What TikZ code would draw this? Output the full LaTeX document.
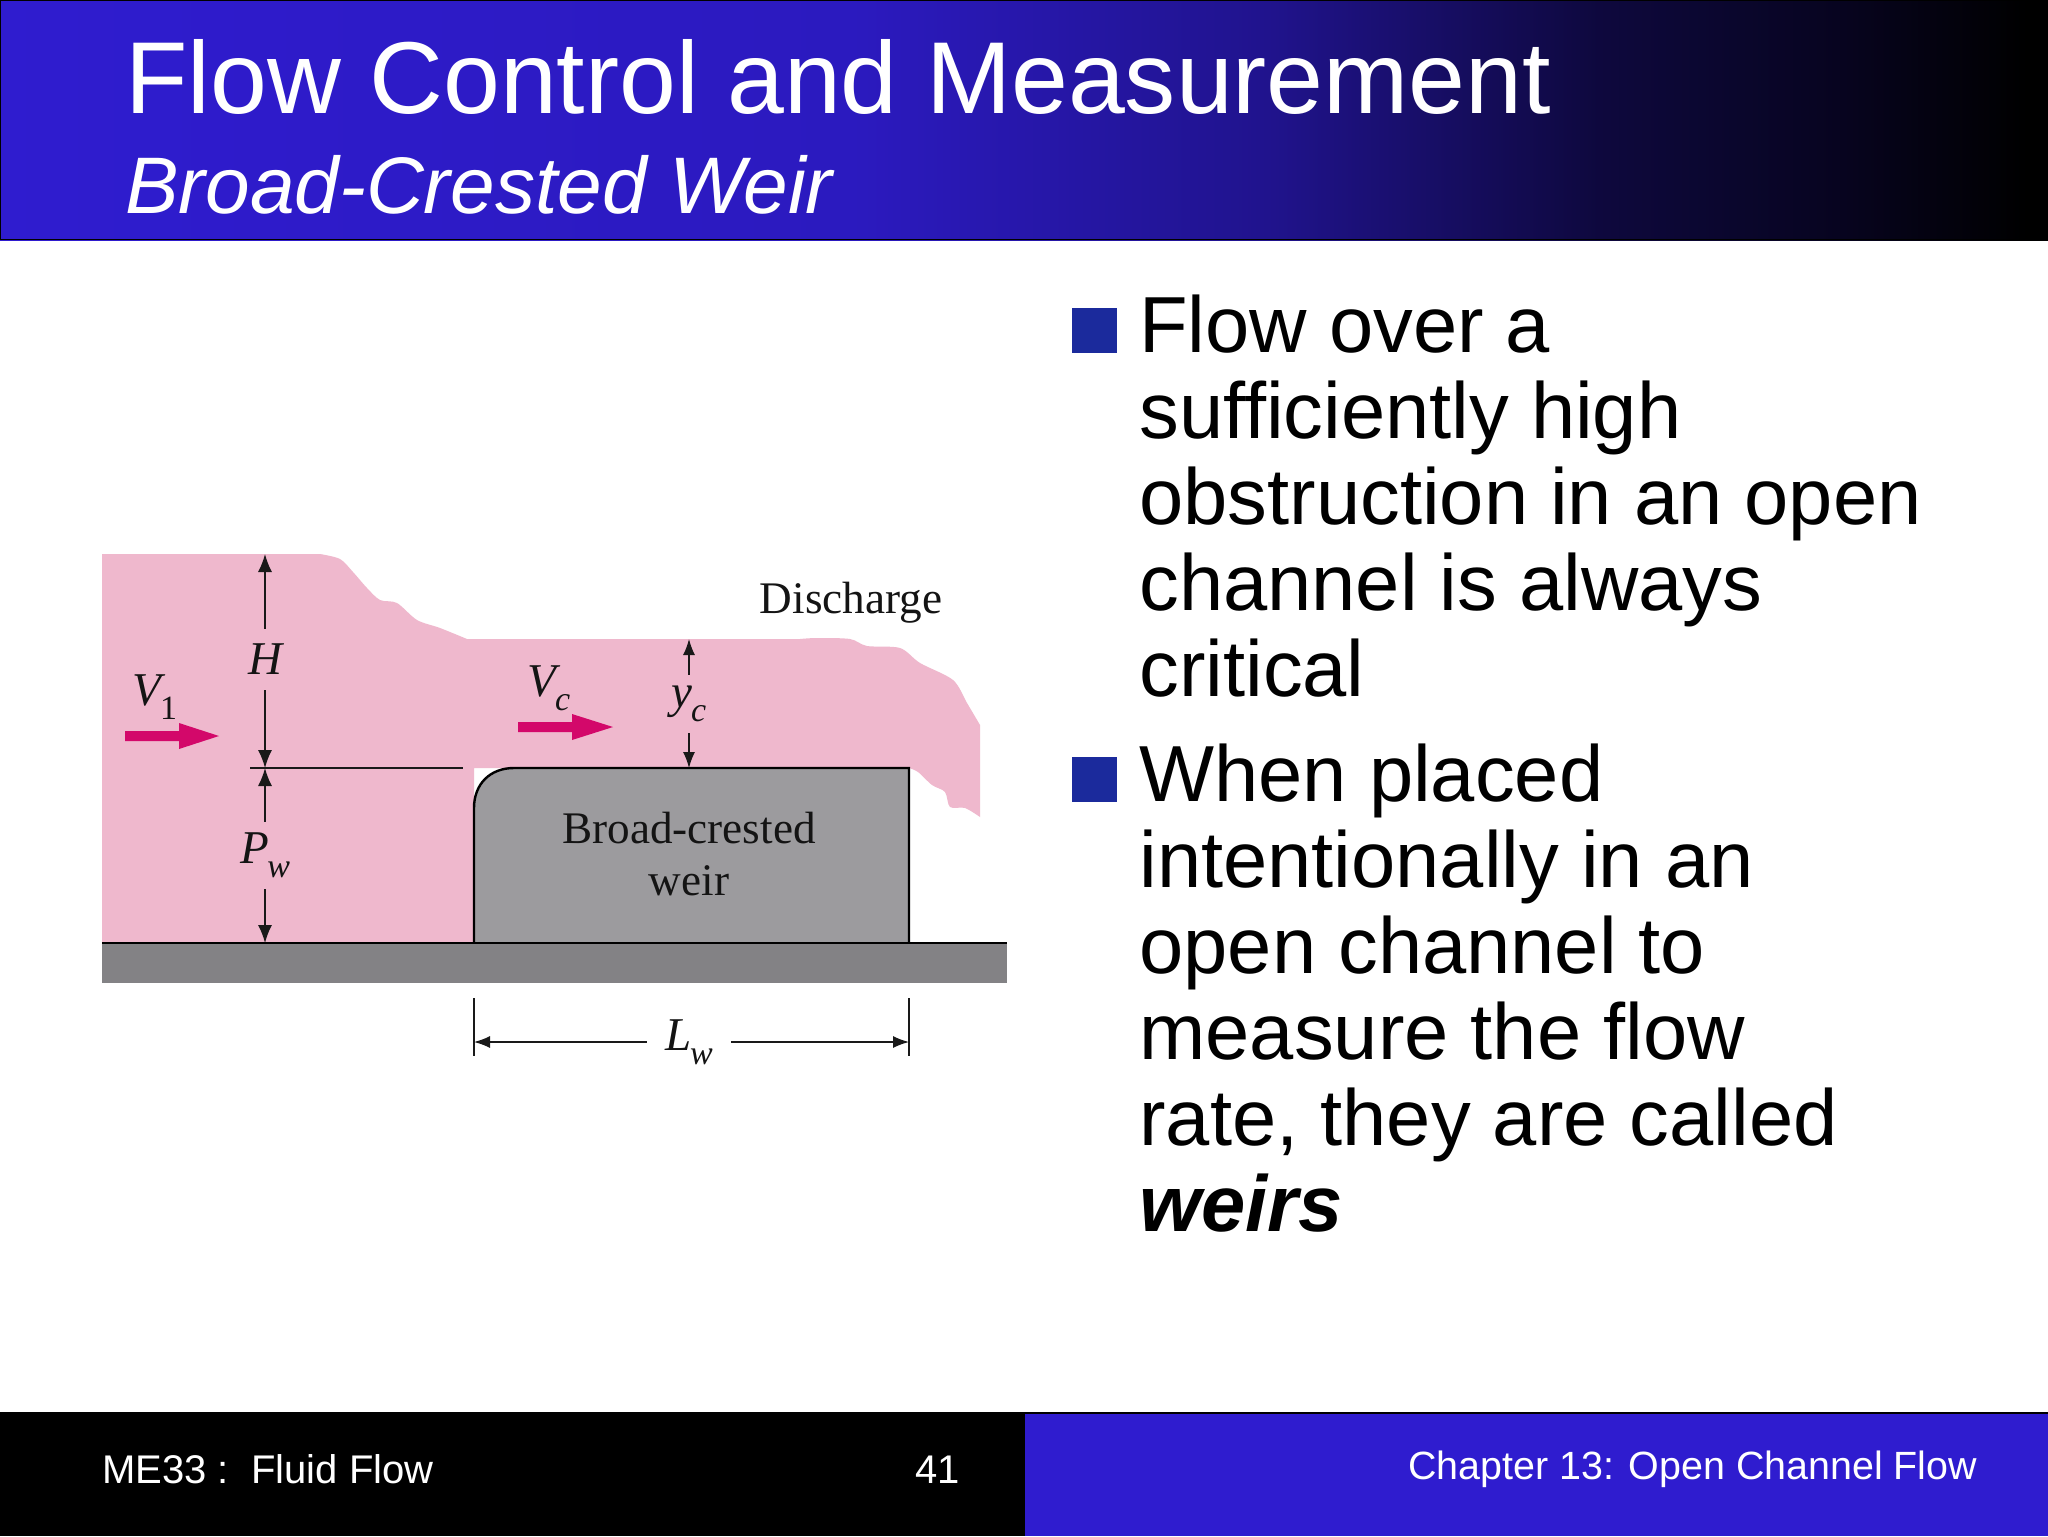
\documentclass[tikz,border=0pt]{standalone}
\usepackage{fontspec}
\setmainfont{Liberation Sans}
\newfontfamily\figfont{Liberation Serif}
\usetikzlibrary{arrows.meta}
\definecolor{slideblue}{HTML}{2F1CCF}
\definecolor{bulletblue}{HTML}{1B2A9C}
\definecolor{waterpink}{HTML}{EFB8CD}
\definecolor{weirgray}{HTML}{9C9B9E}
\definecolor{groundgray}{HTML}{838285}
\definecolor{flowred}{HTML}{D3086A}
\pgfdeclarehorizontalshading{headshade}{100bp}{
 color(0bp)=(slideblue); color(25bp)=(slideblue); color(46bp)=(slideblue!92!black);
 color(56bp)=(slideblue!68!black); color(64bp)=(slideblue!30!black); color(70bp)=(slideblue!15!black); color(74.5bp)=(black); color(100bp)=(black)}
\newcommand{\sbs}[1]{\kern-0.03em\raisebox{-0.3em}{\fontsize{17}{17}\selectfont #1}}
\tikzset{
 x=0.5pt,y=-0.5pt,
 titletext/.style={anchor=base west,inner sep=0,text=white,font=\fontsize{51.1}{51.1}\selectfont},
 subtitletext/.style={anchor=base west,inner sep=0,text=white,font=\itshape\fontsize{40.1}{40.1}\selectfont},
 bodytext/.style={anchor=north west,inner sep=0,align=left,font=\fontsize{39.75}{43}\selectfont},
 bulletbox/.style={fill=bulletblue,draw=none,minimum size=22.5pt,inner sep=0},
 foottext/.style={anchor=base west,inner sep=0,text=white,font=\fontsize{20}{20}\selectfont},
 figlabel/.style={inner sep=0,font=\figfont\fontsize{22.6}{26}\selectfont,text=black!92},
 mathlabel/.style={inner sep=0,font=\figfont\itshape\fontsize{23.5}{23.5}\selectfont,text=black!92},
 dimline/.style={draw=black!90,line width=0.7pt,-{Latex[length=9pt,width=7pt]}},
 dimsmall/.style={draw=black!90,line width=0.65pt,-{Latex[length=8pt,width=6pt]}},
 plainline/.style={draw=black!90,line width=0.65pt},
 outline/.style={draw=black,line width=1.2pt},
}
\begin{document}
\begin{tikzpicture}
\useasboundingbox (0,0) rectangle (2048,1536);
\fill[white] (0,0) rectangle (2048,1536);
% header
\shade[shading=headshade] (0,0) rectangle (2048,240);
\draw[black,line width=0.8pt] (0.5,0.5) rectangle (2047.5,239.5);
\node[titletext] (title) at (125,113) {Flow Control and Measurement};
\node[subtitletext] (subtitle) at (125,213) {Broad-Crested Weir};
% footer
\fill[black] (0,1412) rectangle (2048,1536);
\fill[slideblue] (1025,1414) rectangle (2048,1536);
\node[foottext] (course) at (102,1483) {ME33 :\ \ Fluid Flow};
\node[foottext] (page) at (915,1483) {41};
\node[foottext,font=\fontsize{19.7}{19.7}\selectfont] (chapter) at (1408,1479) {Chapter 13: Open Channel Flow};
% bullets
\node[bulletbox] (b1) at (1094.5,330) {};
\node[bulletbox] (b2) at (1094.5,779) {};
\node[bodytext] (p1) at (1139,294.5) {Flow over a\\sufficiently high\\obstruction in an open\\channel is always\\critical};
\node[bodytext] (p2) at (1139,743.5) {When placed\\intentionally in an\\open channel to\\measure the flow\\rate, they are called\\\textbf{\textit{weirs}}};
% water
\fill[waterpink] (102,554) -- (320,554)
 -- plot[smooth,tension=0.5] coordinates {(320,554) (340,559) (353,572) (367,588) (380,600) (397,603) (417,620) (440,628) (467,639)}
 -- (800,639)
 -- plot[smooth,tension=0.5] coordinates {(800,639) (817,638) (850,639) (867,646) (900,648) (920,663) (953,680) (967,703) (980,725)}
 -- (980,817)
 -- plot[smooth,tension=0.5] coordinates {(980,817) (965,808) (950,807) (945,792) (932,785) (918,772) (909,768)}
 -- (474,768) -- (474,943) -- (102,943) -- cycle;
% ground and weir
\fill[groundgray] (102,943) rectangle (1007,983);
\filldraw[fill=weirgray,outline] (474,943) -- (474,808) .. controls (474,784) and (490,768) .. (514,768) -- (909,768) -- (909,943);
\draw[outline] (102,943) -- (1007,943);
% anchors of the dimensions
\coordinate (Htop) at (265,554);
\coordinate (crest) at (265,768);
\coordinate (bed) at (265,943);
\coordinate (refL) at (250,768);
\coordinate (refR) at (463,768);
\coordinate (surface) at (689,639);
\coordinate (crestC) at (689,768);
\coordinate (LwL) at (474,1042);
\coordinate (LwR) at (909,1042);
\coordinate (t1a) at (474,998);
\coordinate (t1b) at (474,1056);
\coordinate (t2a) at (909,998);
\coordinate (t2b) at (909,1056);
% labels
\node[mathlabel,minimum height=30.5pt] (H) at (265,659.5) {H};
\node[mathlabel,minimum height=33.5pt] (Pw) at (265,855.5) {P\sbs{w}};
\node[mathlabel,minimum height=29pt] (yc) at (689,704) {\raisebox{2pt}{y\sbs{c}}};
\node[mathlabel,minimum width=42pt] (Lw) at (689,1042) {L\sbs{w}};
\node[mathlabel] (V1) at (155,697) {V\sbs{\upshape 1}};
\node[mathlabel] (Vc) at (549,688) {V\sbs{c}};
\node[figlabel] (disch) at (851,603) {Discharge};
\node[figlabel,align=center] (weirlabel) at (689,854) {Broad-crested\\weir};
% dimensions
\draw[dimline] (H.north) -- (Htop);
\draw[dimline] (H.south) -- (crest);
\draw[dimline] (Pw.north) -- (crest);
\draw[dimline] (Pw.south) -- (bed);
\draw[plainline] (refL) -- (refR);
\draw[dimsmall] (yc.north) -- (surface);
\draw[dimsmall] (yc.south) -- (crestC);
\draw[dimsmall] (Lw.west) -- (LwL);
\draw[dimsmall] (Lw.east) -- (LwR);
\draw[plainline] (t1a) -- (t1b);
\draw[plainline] (t2a) -- (t2b);
% flow arrows
\fill[flowred] (125,731) -- (179,731) -- (179,723) -- (219,736) -- (179,749) -- (179,741) -- (125,741) -- cycle;
\fill[flowred] (518,722) -- (572,722) -- (572,714) -- (613,727) -- (572,740) -- (572,732) -- (518,732) -- cycle;
\end{tikzpicture}
\end{document}
